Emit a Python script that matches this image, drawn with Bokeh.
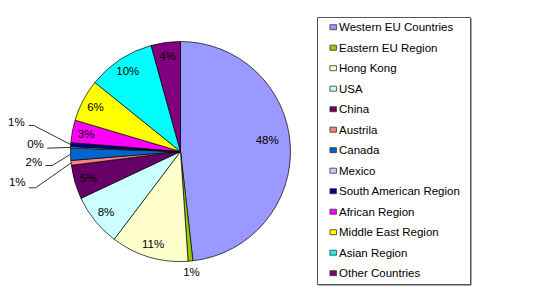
import math
from bokeh.plotting import figure
from bokeh.models import Range1d, ColumnDataSource
from bokeh.embed import file_html
from bokeh.resources import INLINE
from bokeh.core.properties import value

# ---- data ----
categories = ["Western EU Countries", "Eastern EU Region", "Hong Kong", "USA", "China",
              "Austrila", "Canada", "Mexico", "South American Region", "African Region",
              "Middle East Region", "Asian Region", "Other Countries"]
shares = [48.2, 0.7, 11.4, 7.7, 5.0, 0.7, 1.8, 0.2, 0.6, 3.3, 6.2, 9.9, 4.3]
colors = ["#9999FF", "#99CC00", "#FFFFCC", "#CCFFFF", "#660066", "#FF8080", "#0066CC",
          "#CCCCFF", "#000080", "#FF00FF", "#FFFF00", "#00FFFF", "#800080"]

# ---- layout / style ----
W, H = 540, 300
CX, CY, R = 180, H - 151, 110
FONT = value("Liberation Sans")
FS = "11.5px"

def Y(py):
    return H - py

total = float(sum(shares))
theta_s, theta_e = [], []
acc = 0.0
for s in shares:
    theta_s.append(acc / total * 2 * math.pi)
    acc += s
    theta_e.append(acc / total * 2 * math.pi)
start_angle = [math.pi / 2 - t for t in theta_s]
end_angle = [math.pi / 2 - t for t in theta_e]
mid = [(a + b) / 2 for a, b in zip(theta_s, theta_e)]
labels = [f"{round(s)}%" for s in shares]

p = figure(width=W, height=H, x_range=Range1d(0, W), y_range=Range1d(0, H),
           output_backend="svg", toolbar_location=None,
           x_axis_location=None, y_axis_location=None, min_border=0)
p.grid.visible = False
p.outline_line_color = None
p.background_fill_color = "white"
p.border_fill_color = "white"

src = ColumnDataSource(dict(cat=categories, start=start_angle, end=end_angle, color=colors))
p.wedge(x=CX, y=CY, radius=R, start_angle="start", end_angle="end", direction="clock",
        fill_color="color", line_color="black", line_width=0.7, source=src)

# label placement (styling)
inside_r = 96
overrides = {"Western EU Countries": (266.7, 139.0)}
outside = {
    "Austrila": ((16.7, 181.7), [(28.3, 187.3), (35.0, 187.3)]),
    "Canada": ((33.3, 161.0), [(45.0, 165.0), (51.7, 165.0)]),
    "Mexico": ((35.0, 143.3), [(46.7, 147.7)]),
    "South American Region": ((15.8, 121.7), [(28.3, 125.0), (33.3, 125.0)]),
}

lx, ly, lt = [], [], []
xs, ys = [], []
for i, cat in enumerate(categories):
    t = mid[i]
    if cat in overrides:
        px, py = overrides[cat]
        lx.append(px); ly.append(Y(py))
    elif cat in outside:
        (tx, ty), pts = outside[cat]
        lx.append(tx); ly.append(Y(ty))
        ex = CX + R * math.sin(t)
        ey = CY + R * math.cos(t)
        xs.append([q[0] for q in pts] + [ex])
        ys.append([Y(q[1]) for q in pts] + [ey])
    elif shares[i] < 1:
        rr = R + 11
        lx.append(CX + rr * math.sin(t)); ly.append(CY + rr * math.cos(t))
    else:
        lx.append(CX + inside_r * math.sin(t)); ly.append(CY + inside_r * math.cos(t))
    lt.append(labels[i])

p.multi_line(xs=xs, ys=ys, line_color="black", line_width=0.8)
p.text(x=lx, y=ly, text=lt, text_font=FONT, text_font_size=FS, text_color="black",
       text_align="center", text_baseline="middle")

# legend box with shadow
p.quad(left=[318], right=[471], top=[Y(18)], bottom=[Y(285)],
       fill_color="#555555", line_color=None)
p.quad(left=[317], right=[470], top=[Y(17)], bottom=[Y(284)],
       fill_color="white", line_color="#555555", line_width=1)
leg_y = [Y(26.7 + i * 20.5) for i in range(len(categories))]
p.rect(x=[332.7] * len(categories), y=leg_y, width=6.5, height=5,
       fill_color=colors, line_color="#333333", line_width=0.8)
p.text(x=[338.5] * len(categories), y=leg_y, text=categories, text_font=FONT,
       text_font_size=FS, text_color="black", text_align="left", text_baseline="middle")

open("out.html", "w").write(file_html(p, INLINE))
